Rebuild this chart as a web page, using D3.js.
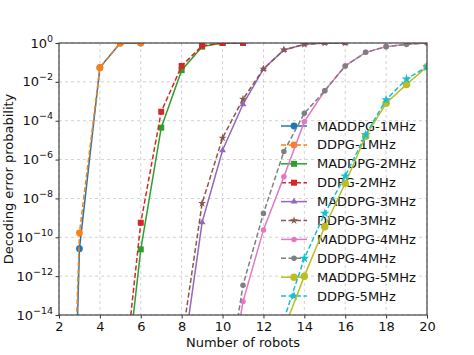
<!DOCTYPE html>
<html>
<head>
<meta charset="utf-8">
<script src="https://cdn.jsdelivr.net/npm/d3@7"></script>
<style>
body{margin:0;background:#fff}
text{font-family:"DejaVu Sans",sans-serif;fill:#111}
</style>
</head>
<body>
<svg id="chart" width="474" height="355"></svg>
<script>
// values (x = number of robots)
var names = ['MADDPG-1MHz','DDPG-1MHz','MADDPG-2MHz','DDPG-2MHz','MADDPG-3MHz','DDPG-3MHz','MADDPG-4MHz','DDPG-4MHz','MADDPG-5MHz','DDPG-5MHz']
var xs1 = [2,3,4,5,6]
var maddpg1 = [1e-48,2.6e-11,0.054,1,1]
var ddpg1 = [1e-42,1.7e-10,0.054,1,1]
var xs2 = [5,6,7,8,9,10,11]
var maddpg2 = [1e-20,2.4e-11,4.4e-5,0.04,0.65,1,1]
var ddpg2 = [1e-19,5.6e-10,2.9e-4,0.066,0.72,1,1]
var xs3 = [8,9,10,11,12,13,14,15,16]
var maddpg3 = [2e-17,5.9e-10,3e-6,7e-4,0.046,0.44,0.85,1,1]
var ddpg3 = [4e-16,5.6e-9,1.3e-5,1.3e-3,0.046,0.44,0.85,1,1]
var xs4 = [10,11,12,13,14,15,16,17,18,19,20]
var maddpg4 = [2.5e-20,4.9e-14,2.4e-10,1.3e-7,8.9e-5,3.5e-3,0.066,0.33,0.65,0.85,1]
var ddpg4 = [8e-20,3.4e-13,1.7e-9,2.6e-6,2.4e-4,3.5e-3,0.066,0.33,0.65,0.85,1]
var xs5 = [13,14,15,16,17,18,19,20]
var maddpg5 = [1.8e-15,1e-12,3.5e-10,6e-8,1.6e-5,7.9e-4,7.4e-3,0.06]
var ddpg5 = [6e-15,8.3e-12,1.7e-9,1.4e-7,1.9e-5,1.2e-3,0.014,0.06]
var xTicks = [2,4,6,8,10,12,14,16,18,20]
var yExps = [0,-2,-4,-6,-8,-10,-12,-14]

var colors = ['#1f77b4','#ff7f0e','#2ca02c','#d62728','#9467bd','#8c564b','#e377c2','#7f7f7f','#bcbd22','#17becf']
var symbols = [d3.symbolCircle,d3.symbolCircle,d3.symbolSquare,d3.symbolSquare,d3.symbolTriangle,d3.symbolStar,d3.symbolCircle,d3.symbolCircle,d3.symbolCircle,d3.symbolStar]
var sizes = [36,36,36,36,20,20,24,24,44,30]

var series = [
  [xs1,maddpg1],[xs1,ddpg1],[xs2,maddpg2],[xs2,ddpg2],[xs3,maddpg3],
  [xs3,ddpg3],[xs4,maddpg4],[xs4,ddpg4],[xs5,maddpg5],[xs5,ddpg5]
].map(function(s,i){
  return {name:names[i], color:colors[i], dashed:i%2==1, symbol:symbols[i], size:sizes[i],
    pts:s[0].map(function(x,j){return {x:x,y:s[1][j]}})}
})

var svg = d3.select('#chart')
var pLeft = 59, pRight = 427, pTop = 43, pBottom = 315

var x = d3.scaleLinear().domain([2,20]).range([pLeft,pRight])
var y = d3.scaleLog().domain([1e-14,1]).range([pBottom,pTop])

// grid
svg.append('g').selectAll('line').data(xTicks).enter().append('line')
  .attr('x1',function(d){return x(d)}).attr('x2',function(d){return x(d)})
  .attr('y1',pTop).attr('y2',pBottom)
  .attr('stroke','#b0b0b0').attr('stroke-width',0.8).attr('stroke-dasharray','3,3').attr('opacity',0.7)
svg.append('g').selectAll('line').data(yExps).enter().append('line')
  .attr('y1',function(d){return y(Math.pow(10,d))}).attr('y2',function(d){return y(Math.pow(10,d))})
  .attr('x1',pLeft).attr('x2',pRight)
  .attr('stroke','#b0b0b0').attr('stroke-width',0.8).attr('stroke-dasharray','3,3').attr('opacity',0.7)

// legend (sits under the curves, as in the source figure)
var lg = svg.append('g')
var items = lg.selectAll('g').data(series).enter().append('g')
  .attr('transform',function(d,i){return 'translate(0,'+(126+i*18.9)+')'})
items.append('line').attr('x1',281).attr('x2',307)
  .attr('stroke',function(d){return d.color}).attr('stroke-width',1.5)
  .attr('stroke-dasharray',function(d){return d.dashed?'5,2.5':null})
items.append('path').attr('d',function(d){return d3.symbol().type(d.symbol).size(d.size)()})
  .attr('transform','translate(294,0)').attr('fill',function(d){return d.color})
items.append('text').attr('x',317).attr('y',4.5).attr('font-size',13).text(function(d){return d.name})

svg.append('clipPath').attr('id','clip').append('rect')
  .attr('x',pLeft).attr('y',pTop).attr('width',pRight-pLeft).attr('height',pBottom-pTop)

var line = d3.line().x(function(d){return x(d.x)}).y(function(d){return y(d.y)})

var plot = svg.append('g').attr('clip-path','url(#clip)')
series.forEach(function(s){
  var g = plot.append('g')
  g.append('path').datum(s.pts).attr('d',line)
    .attr('fill','none').attr('stroke',s.color).attr('stroke-width',1.5)
    .attr('stroke-dasharray',s.dashed?'5,2.5':null)
  g.selectAll('path.m').data(s.pts).enter().append('path').attr('class','m')
    .attr('d',d3.symbol().type(s.symbol).size(s.size))
    .attr('transform',function(d){return 'translate('+x(d.x)+','+y(d.y)+')'})
    .attr('fill',s.color)
})

// axes
var xAxis = svg.append('g').attr('transform','translate(0,'+pBottom+')')
  .call(d3.axisBottom(x).tickValues(xTicks).tickSize(3.5).tickPadding(3))
xAxis.selectAll('text').attr('font-size',13).style('font-family','DejaVu Sans').attr('fill','#111')
var yAxis = svg.append('g').attr('transform','translate('+pLeft+',0)')
  .call(d3.axisLeft(y).tickValues(yExps.map(function(e){return Math.pow(10,e)})).tickSize(3.5).tickFormat(''))
svg.selectAll('.domain').remove()
svg.selectAll('.tick line').attr('stroke','#333')

var yl = svg.append('g').selectAll('text').data(yExps).enter().append('text')
  .attr('x',pLeft-6).attr('y',function(d){return y(Math.pow(10,d))+4.5})
  .attr('text-anchor','end').attr('font-size',13)
yl.append('tspan').text('10')
yl.append('tspan').attr('dy',-6).attr('font-size',9.5)
  .text(function(d){return d==0?'0':'\u2212'+(-d)})

svg.append('rect').attr('x',pLeft).attr('y',pTop).attr('width',pRight-pLeft).attr('height',pBottom-pTop)
  .attr('fill','none').attr('stroke','#444').attr('stroke-width',1.2)

svg.append('text').attr('x',(pLeft+pRight)/2).attr('y',347).attr('text-anchor','middle')
  .attr('font-size',13).text('Number of robots')
svg.append('text').attr('transform','translate(13,'+((pTop+pBottom)/2)+') rotate(-90)')
  .attr('text-anchor','middle').attr('font-size',13).text('Decoding error probability')
</script>
</body>
</html>
